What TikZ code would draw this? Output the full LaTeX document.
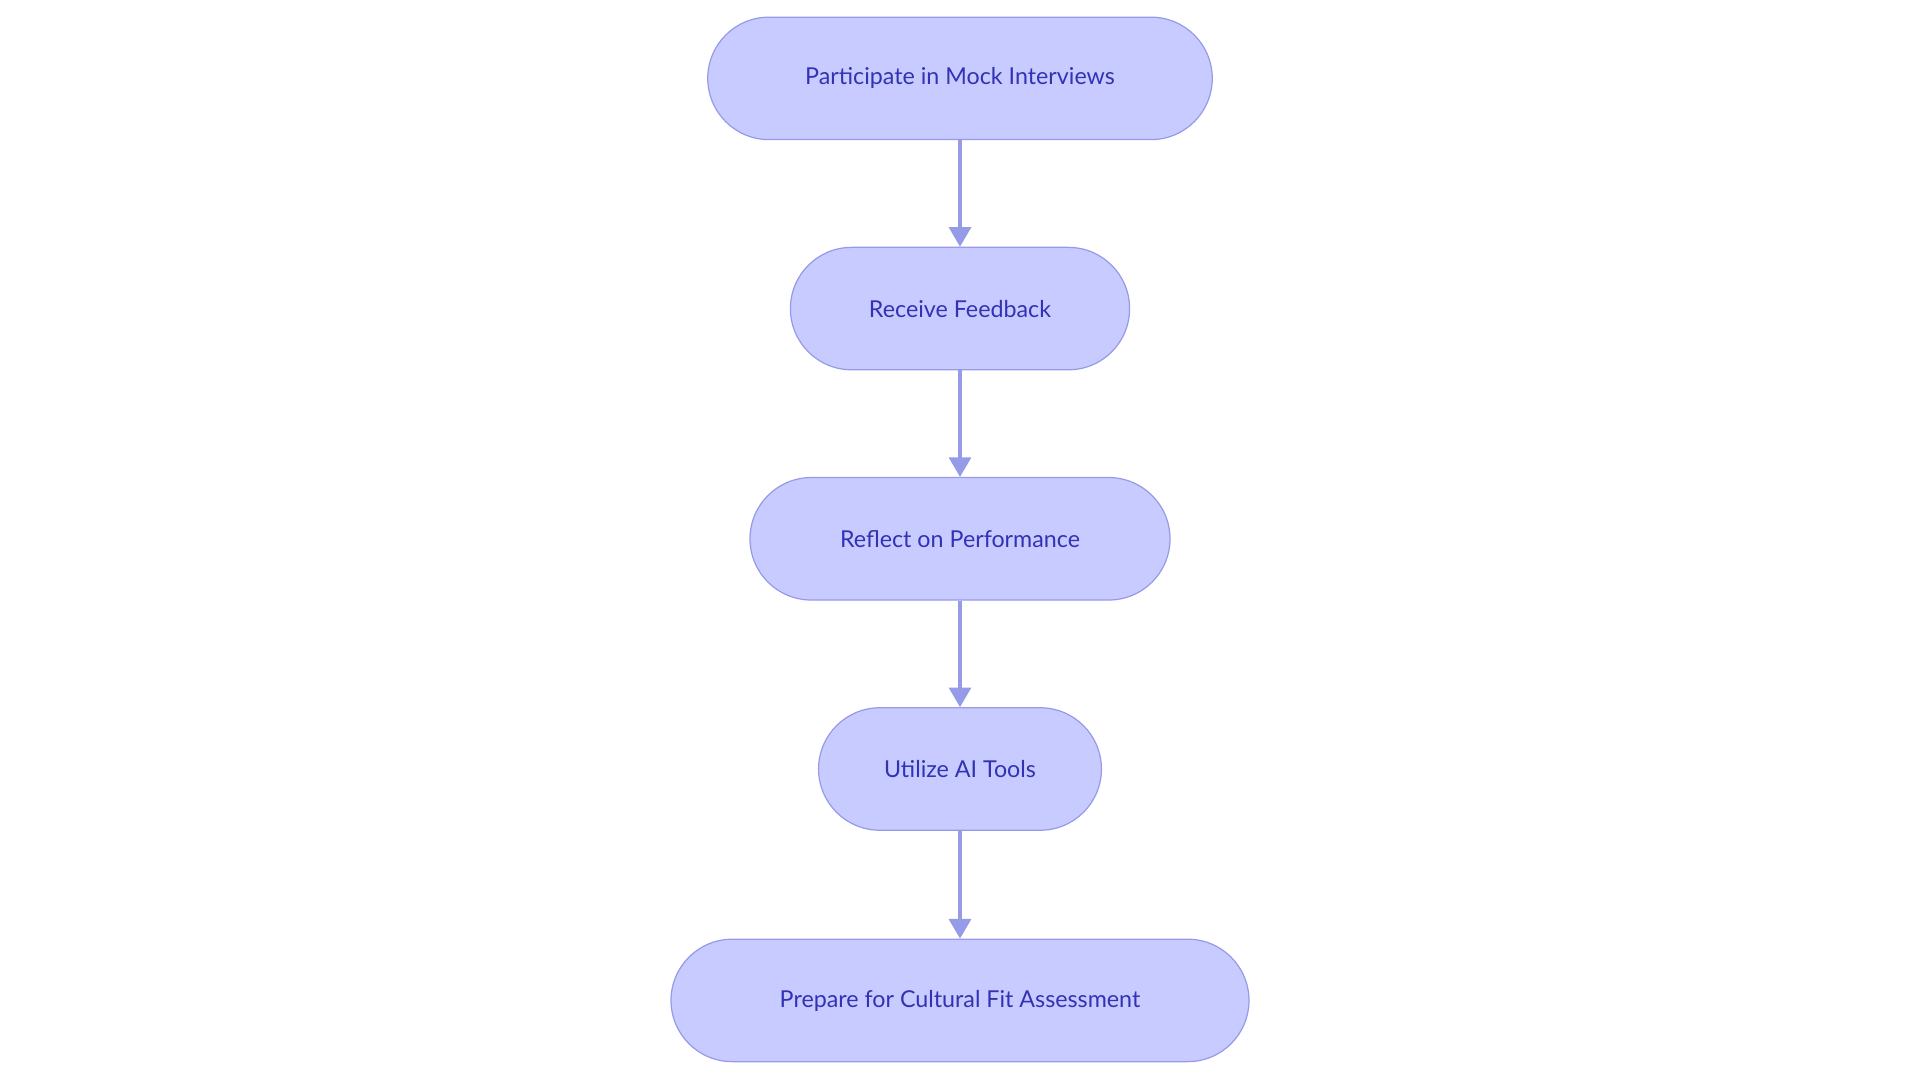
\documentclass[tikz,border=0pt]{standalone}
\usepackage{fontspec}
\setmainfont{Lato}
\usetikzlibrary{arrows.meta}
\begin{document}
\begin{tikzpicture}[x=1pt,y=-1pt,
  box/.style={draw=black!0!blue!40!white, draw={rgb,255:red,150;green,155;blue,232}, fill={rgb,255:red,200;green,203;blue,255}, rounded corners=50pt, minimum height=100pt, line width=1pt, text={rgb,255:red,50;green,50;blue,180}, font=\fontsize{19}{22}\selectfont, inner sep=0pt},
  arr/.style={draw={rgb,255:red,150;green,155;blue,232}, line width=2.5pt, -{Triangle[length=16pt,width=18pt]}}]
\useasboundingbox (0,0) rectangle (1568,884.5);
\node[box, minimum width=412pt] (a) at (784,64) {Participate in Mock Interviews};
\node[box, minimum width=277pt] (b) at (784,252) {Receive Feedback};
\node[box, minimum width=343pt] (c) at (784,440) {Reflect on Performance};
\node[box, minimum width=231pt] (d) at (784,628) {Utilize AI Tools};
\node[box, minimum width=472pt] (e) at (784,817) {Prepare for Cultural Fit Assessment};
\draw[arr] (a) -- (b);
\draw[arr] (b) -- (c);
\draw[arr] (c) -- (d);
\draw[arr] (d) -- (e);
\end{tikzpicture}
\end{document}
